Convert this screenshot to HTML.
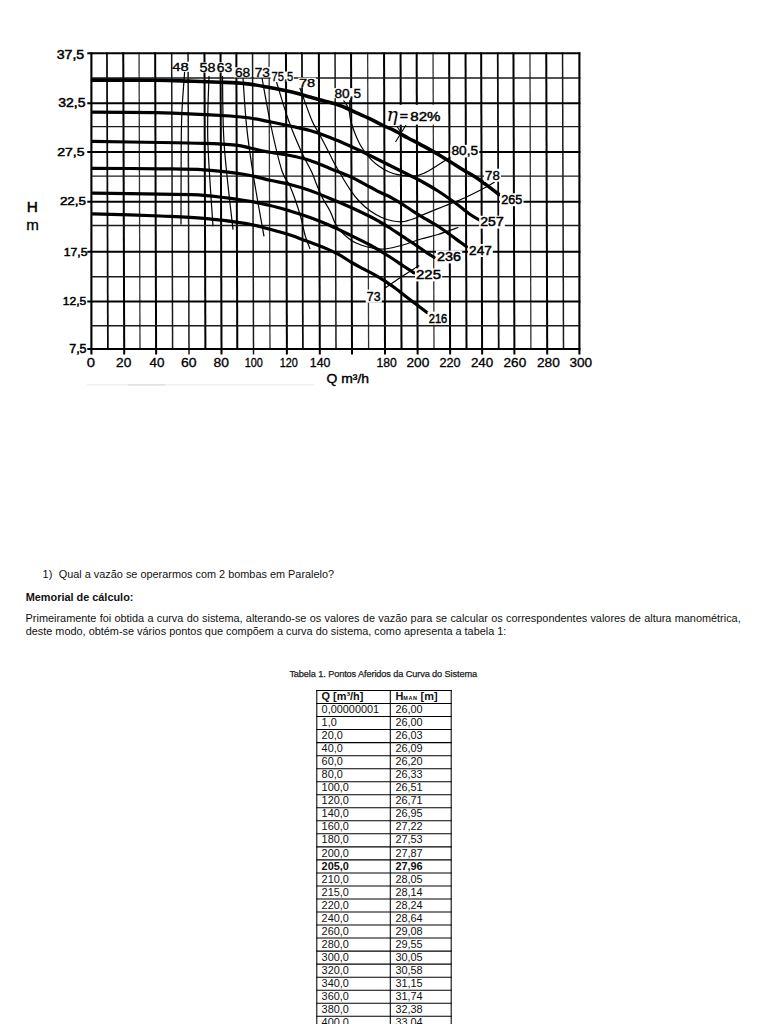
<!DOCTYPE html>
<html><head><meta charset="utf-8"><style>
html,body{margin:0;padding:0;background:#fff;}
body{width:768px;height:1024px;position:relative;overflow:hidden;font-family:"Liberation Sans",sans-serif;color:#000;}
.t{position:absolute;font-size:10.9px;line-height:12.7px;white-space:nowrap;color:#111;}
.c{position:absolute;font-size:10.9px;line-height:12.2px;white-space:nowrap;color:#111;}
.sub{font-size:5.5px;letter-spacing:0.6px;vertical-align:0.2px;}
.cap{position:absolute;left:289.4px;top:668.8px;-webkit-text-stroke:0.25px #222;font-family:"Liberation Sans",sans-serif;font-size:9.2px;line-height:10px;color:#222;white-space:nowrap;letter-spacing:-0.11px;}
</style></head><body>
<svg width="768" height="400" viewBox="0 0 768 400" style="position:absolute;left:0;top:0"><line x1="87" y1="384.8" x2="314" y2="384.8" stroke="#eeeeee" stroke-width="1.3"/><line x1="128" y1="384.8" x2="165" y2="384.8" stroke="#dddddd" stroke-width="1.3"/><line x1="91.40" y1="52.4" x2="91.40" y2="354.5" stroke="#000" stroke-width="2.1"/><line x1="106.95" y1="52.4" x2="107.90" y2="349" stroke="#0a0a0a" stroke-width="1.75"/><line x1="123.25" y1="52.4" x2="124.22" y2="354.5" stroke="#000" stroke-width="2.0"/><line x1="139.05" y1="52.4" x2="140.00" y2="349" stroke="#333" stroke-width="1.3"/><line x1="155.15" y1="52.4" x2="156.12" y2="354.5" stroke="#000" stroke-width="2.0"/><line x1="171.65" y1="52.4" x2="172.60" y2="349" stroke="#1a1a1a" stroke-width="1.5"/><line x1="188.05" y1="52.4" x2="189.02" y2="354.5" stroke="#1a1a1a" stroke-width="1.5"/><line x1="204.45" y1="52.4" x2="205.40" y2="349" stroke="#000" stroke-width="2.0"/><line x1="220.55" y1="52.4" x2="221.52" y2="354.5" stroke="#000" stroke-width="2.0"/><line x1="236.35" y1="52.4" x2="237.30" y2="349" stroke="#000" stroke-width="2.0"/><line x1="252.55" y1="52.4" x2="253.52" y2="354.5" stroke="#1a1a1a" stroke-width="1.5"/><line x1="269.05" y1="52.4" x2="270.00" y2="349" stroke="#333" stroke-width="1.3"/><line x1="285.95" y1="52.4" x2="286.92" y2="354.5" stroke="#000" stroke-width="2.0"/><line x1="301.95" y1="52.4" x2="302.90" y2="349" stroke="#0a0a0a" stroke-width="1.75"/><line x1="318.85" y1="52.4" x2="319.82" y2="354.5" stroke="#000" stroke-width="2.0"/><line x1="335.05" y1="52.4" x2="336.00" y2="349" stroke="#1a1a1a" stroke-width="1.5"/><line x1="351.05" y1="52.4" x2="352.02" y2="354.5" stroke="#000" stroke-width="2.0"/><line x1="367.65" y1="52.4" x2="368.60" y2="349" stroke="#333" stroke-width="1.3"/><line x1="384.05" y1="52.4" x2="385.02" y2="354.5" stroke="#000" stroke-width="2.0"/><line x1="400.55" y1="52.4" x2="401.50" y2="349" stroke="#000" stroke-width="2.0"/><line x1="416.65" y1="52.4" x2="417.62" y2="354.5" stroke="#000" stroke-width="2.0"/><line x1="433.05" y1="52.4" x2="434.00" y2="349" stroke="#333" stroke-width="1.3"/><line x1="449.15" y1="52.4" x2="450.12" y2="354.5" stroke="#000" stroke-width="2.0"/><line x1="465.55" y1="52.4" x2="466.50" y2="349" stroke="#000" stroke-width="2.0"/><line x1="481.15" y1="52.4" x2="482.12" y2="354.5" stroke="#000" stroke-width="2.0"/><line x1="497.75" y1="52.4" x2="498.70" y2="349" stroke="#0a0a0a" stroke-width="1.75"/><line x1="513.45" y1="52.4" x2="514.42" y2="354.5" stroke="#000" stroke-width="2.0"/><line x1="529.95" y1="52.4" x2="530.90" y2="349" stroke="#333" stroke-width="1.3"/><line x1="546.25" y1="52.4" x2="547.22" y2="354.5" stroke="#000" stroke-width="2.0"/><line x1="562.55" y1="52.4" x2="563.50" y2="349" stroke="#1a1a1a" stroke-width="1.5"/><line x1="579.40" y1="52.4" x2="579.40" y2="354.5" stroke="#000" stroke-width="2.1"/><line x1="87.3" y1="53.3" x2="580.4" y2="53.3" stroke="#000" stroke-width="2.1"/><line x1="91.4" y1="77.9" x2="580.4" y2="77.9" stroke="#1a1a1a" stroke-width="1.45"/><line x1="87.3" y1="103.3" x2="580.4" y2="103.3" stroke="#000" stroke-width="1.95"/><line x1="91.4" y1="126.6" x2="580.4" y2="126.6" stroke="#1a1a1a" stroke-width="1.45"/><line x1="87.3" y1="152.0" x2="580.4" y2="152.0" stroke="#000" stroke-width="1.95"/><line x1="91.4" y1="176.1" x2="580.4" y2="176.1" stroke="#1a1a1a" stroke-width="1.45"/><line x1="87.3" y1="201.7" x2="580.4" y2="201.7" stroke="#000" stroke-width="1.95"/><line x1="91.4" y1="225.4" x2="580.4" y2="225.4" stroke="#1a1a1a" stroke-width="1.45"/><line x1="87.3" y1="251.7" x2="580.4" y2="251.7" stroke="#000" stroke-width="1.95"/><line x1="91.4" y1="276.8" x2="580.4" y2="276.8" stroke="#1a1a1a" stroke-width="1.45"/><line x1="87.3" y1="301.4" x2="580.4" y2="301.4" stroke="#000" stroke-width="1.95"/><line x1="91.4" y1="325.7" x2="580.4" y2="325.7" stroke="#1a1a1a" stroke-width="1.45"/><line x1="87.3" y1="349.0" x2="580.4" y2="349.0" stroke="#000" stroke-width="2.1"/><path d="M92.5,80.1 C103.1,80.1 139.9,80.1 156.0,80.3 C172.1,80.5 178.3,80.8 189.0,81.1 C199.7,81.4 210.7,81.8 220.0,82.2 C229.3,82.6 237.2,82.8 245.0,83.6 C252.8,84.4 259.2,85.6 267.0,87.0 C274.8,88.4 284.7,90.4 292.0,92.1 C299.3,93.8 305.5,95.8 311.0,97.3 C316.5,98.8 320.2,99.8 325.0,101.2 C329.8,102.6 334.8,103.6 340.0,105.5 C345.2,107.4 351.2,110.4 356.0,112.6 C360.8,114.8 364.7,116.3 369.0,118.4 C373.3,120.5 377.7,122.9 382.0,125.0 C386.3,127.1 390.7,128.6 395.0,130.8 C399.3,133.0 403.7,135.7 408.0,138.0 C412.3,140.3 415.7,141.9 421.0,144.8 C426.3,147.7 433.0,151.3 440.0,155.5 C447.0,159.7 457.2,166.1 463.0,169.7 C468.8,173.2 471.2,174.3 475.0,176.8 C478.8,179.3 482.0,181.7 486.0,184.6 C490.0,187.5 496.8,192.8 499.0,194.5" fill="none" stroke="#000" stroke-width="3.6" stroke-linecap="round"/><path d="M92.5,112.1 C103.1,112.2 139.9,112.4 156.0,112.7 C172.1,113.0 176.7,113.2 189.0,113.8 C201.3,114.3 219.8,115.3 230.0,116.0 C240.2,116.7 243.3,117.0 250.0,118.0 C256.7,119.0 263.3,120.5 270.0,121.8 C276.7,123.1 283.3,124.5 290.0,126.0 C296.7,127.5 303.3,128.6 310.0,130.5 C316.7,132.4 323.3,134.9 330.0,137.5 C336.7,140.1 343.3,143.0 350.0,146.0 C356.7,149.0 363.3,152.2 370.0,155.5 C376.7,158.8 383.3,162.2 390.0,165.5 C396.7,168.8 405.0,173.0 410.0,175.5 C415.0,178.0 415.3,177.9 420.0,180.5 C424.7,183.1 432.0,187.2 438.0,191.0 C444.0,194.8 450.5,199.5 456.0,203.5 C461.5,207.5 467.0,212.2 471.0,215.0 C475.0,217.8 478.5,219.4 480.0,220.3" fill="none" stroke="#000" stroke-width="3.2" stroke-linecap="round"/><path d="M92.5,141.3 C103.8,141.5 141.4,142.2 160.0,142.5 C178.6,142.8 191.3,143.0 204.0,143.4 C216.7,143.8 228.3,144.4 236.0,145.2 C243.7,146.0 244.3,146.8 250.0,148.0 C255.7,149.2 263.3,151.1 270.0,152.3 C276.7,153.6 283.3,154.1 290.0,155.5 C296.7,156.9 303.3,158.3 310.0,160.5 C316.7,162.7 323.3,165.8 330.0,168.5 C336.7,171.2 343.3,173.4 350.0,176.5 C356.7,179.6 365.0,184.4 370.0,187.0 C375.0,189.6 376.4,190.5 380.0,192.3 C383.6,194.1 387.8,195.7 391.7,197.8 C395.6,199.9 399.5,202.3 403.4,204.8 C407.3,207.3 411.3,210.2 415.2,212.7 C419.1,215.2 422.8,217.2 426.9,219.7 C431.0,222.2 435.1,224.2 440.0,227.5 C444.9,230.8 452.1,236.2 456.5,239.4 C460.9,242.6 464.8,245.5 466.5,246.7" fill="none" stroke="#000" stroke-width="3.2" stroke-linecap="round"/><path d="M92.5,168.3 C103.8,168.4 141.4,168.5 160.0,168.8 C178.6,169.1 189.8,169.0 204.0,169.9 C218.2,170.8 234.0,172.8 245.0,174.5 C256.0,176.2 262.5,178.6 270.0,180.3 C277.5,182.0 283.3,182.8 290.0,184.5 C296.7,186.2 303.3,188.2 310.0,190.5 C316.7,192.8 323.3,195.8 330.0,198.5 C336.7,201.2 343.3,204.0 350.0,207.0 C356.7,210.0 365.0,214.0 370.0,216.5 C375.0,219.0 376.7,220.1 380.0,222.0 C383.3,223.9 386.1,225.5 390.0,228.0 C393.9,230.5 399.7,234.5 403.4,236.9 C407.1,239.3 408.4,240.1 412.0,242.5 C415.6,244.9 421.3,249.0 425.0,251.5 C428.7,254.0 432.5,256.3 434.0,257.3" fill="none" stroke="#000" stroke-width="3.2" stroke-linecap="round"/><path d="M92.5,193.2 C103.8,193.4 141.4,193.8 160.0,194.2 C178.6,194.5 189.8,194.2 204.0,195.3 C218.2,196.4 234.0,198.8 245.0,200.5 C256.0,202.2 262.5,203.8 270.0,205.5 C277.5,207.2 283.3,209.0 290.0,211.0 C296.7,213.0 303.3,215.1 310.0,217.5 C316.7,219.9 323.3,222.6 330.0,225.5 C336.7,228.4 343.3,231.8 350.0,235.0 C356.7,238.2 363.3,241.3 370.0,245.0 C376.7,248.7 384.2,253.3 390.0,257.0 C395.8,260.7 401.0,264.4 405.0,267.0 C409.0,269.6 412.5,271.8 414.0,272.8" fill="none" stroke="#000" stroke-width="3.2" stroke-linecap="round"/><path d="M92.5,213.8 C103.8,214.2 141.4,215.2 160.0,216.0 C178.6,216.8 189.8,217.1 204.0,218.3 C218.2,219.5 234.0,221.5 245.0,223.3 C256.0,225.1 262.2,227.2 270.0,229.3 C277.8,231.4 286.1,233.8 291.7,235.6 C297.3,237.4 299.5,238.5 303.4,239.9 C307.3,241.3 311.3,242.7 315.2,244.2 C319.1,245.7 322.9,247.1 327.0,248.9 C331.1,250.7 335.9,252.9 340.0,255.2 C344.1,257.5 347.8,260.2 351.7,262.5 C355.6,264.8 359.5,266.8 363.4,268.9 C367.3,271.0 371.6,273.1 375.2,275.2 C378.8,277.2 381.8,279.1 385.0,281.2 C388.2,283.3 391.7,285.5 394.7,287.7 C397.7,289.9 399.2,291.4 403.0,294.3 C406.8,297.2 413.5,302.3 417.5,305.3 C421.5,308.3 425.4,311.3 427.0,312.5" fill="none" stroke="#000" stroke-width="3.2" stroke-linecap="round"/><path d="M184.6,72.0 C184.2,78.3 182.6,97.8 182.0,110.0 C181.4,122.2 181.4,125.9 181.2,145.0 C181.1,164.1 181.0,211.2 181.0,224.5" fill="none" stroke="#000" stroke-width="1.2"/><path d="M209.0,76.0 C208.8,86.7 207.1,115.0 207.8,140.0 C208.5,165.1 212.1,211.9 213.0,226.3" fill="none" stroke="#000" stroke-width="1.2"/><path d="M222.5,76.0 C222.8,87.5 222.4,119.4 224.2,145.0 C225.9,170.6 231.5,215.5 233.0,229.6" fill="none" stroke="#000" stroke-width="1.2"/><path d="M243.0,78.0 C243.6,86.1 244.9,110.2 246.6,126.4 C248.3,142.6 250.4,156.8 253.3,175.1 C256.2,193.4 262.2,226.1 264.0,236.3" fill="none" stroke="#000" stroke-width="1.2"/><path d="M262.0,78.0 C263.5,86.0 267.7,110.5 271.0,126.0 C274.3,141.5 278.9,161.2 282.0,171.0 C285.1,180.8 287.2,179.8 289.5,185.0 C291.8,190.2 294.1,196.5 296.0,202.0 C297.9,207.5 299.5,212.5 301.0,218.0 C302.5,223.5 303.5,229.8 305.0,235.0 C306.5,240.2 309.2,246.7 310.0,249.0" fill="none" stroke="#000" stroke-width="1.2"/><path d="M276.5,82.0 C278.5,88.5 284.6,109.5 288.8,121.0 C292.9,132.5 297.4,142.8 301.2,151.2 C305.1,159.8 309.2,166.7 311.7,172.0 C314.2,177.3 314.3,178.8 316.0,183.0 C317.7,187.2 319.7,192.3 322.0,197.0 C324.3,201.7 327.8,206.7 330.0,211.0 C332.2,215.3 333.3,219.7 335.0,223.0 C336.7,226.3 337.7,228.0 340.3,230.8 C342.9,233.6 347.2,237.5 350.7,239.9 C354.1,242.3 357.4,243.7 361.0,245.0 C364.6,246.3 368.1,247.3 372.0,248.0 C375.9,248.7 379.6,249.5 384.7,249.0 C389.8,248.5 396.8,246.7 402.9,245.0 C408.9,243.3 415.1,240.8 421.0,239.0 C426.9,237.2 431.8,236.4 438.0,234.5 C444.2,232.6 454.9,228.7 458.3,227.5" fill="none" stroke="#000" stroke-width="1.2"/><path d="M299.8,87.7 C301.8,93.1 308.5,112.4 311.7,120.0 C314.9,127.6 316.2,128.3 319.0,133.5 C321.8,138.7 325.7,146.2 328.3,151.2 C330.9,156.3 332.2,159.2 334.6,163.8 C337.1,168.3 340.3,173.9 343.0,178.3 C345.7,182.7 348.1,186.7 350.7,190.4 C353.3,194.1 355.3,197.1 358.5,200.5 C361.7,203.9 366.1,208.0 370.0,210.8 C373.9,213.6 377.9,215.8 381.7,217.5 C385.5,219.2 389.5,220.3 393.0,221.0 C396.5,221.7 399.2,222.0 402.5,221.7 C405.8,221.4 409.5,220.2 413.0,219.0 C416.5,217.8 418.1,216.7 423.3,214.6 C428.5,212.5 437.1,209.0 444.0,206.2 C450.9,203.4 458.0,200.8 465.0,197.7 C472.0,194.5 480.9,189.9 485.8,187.3 C490.8,184.7 493.2,182.9 494.7,182.0" fill="none" stroke="#000" stroke-width="1.2"/><path d="M343.5,100.5 C344.3,101.8 347.3,105.1 348.5,108.5 C349.7,111.9 349.8,117.0 350.8,121.0 C351.8,125.0 353.2,128.9 354.7,132.8 C356.2,136.7 358.2,141.2 360.0,144.5 C361.8,147.8 363.2,149.7 365.2,152.3 C367.1,154.9 369.3,157.7 371.7,160.1 C374.1,162.5 376.7,164.6 379.5,166.6 C382.3,168.6 385.6,170.5 388.6,171.8 C391.6,173.1 393.6,173.9 397.7,174.6 C401.8,175.3 408.6,176.4 413.0,176.2 C417.4,176.0 419.9,175.0 424.0,173.2 C428.1,171.4 432.5,168.4 437.3,165.5 C442.1,162.6 450.2,157.2 452.8,155.5" fill="none" stroke="#000" stroke-width="1.2"/><path d="M349.8,100.0 L349.6,110.5" fill="none" stroke="#000" stroke-width="1.2"/><path d="M384.7,288.3 C387.6,286.3 396.2,280.3 402.0,276.5 C407.8,272.7 416.4,267.3 419.3,265.5" fill="none" stroke="#000" stroke-width="1.2"/><line x1="395.5" y1="142" x2="406" y2="125" stroke="#000" stroke-width="1.1"/><line x1="397" y1="126.5" x2="403" y2="135.5" stroke="#000" stroke-width="1.1"/><text x="56.76" y="58.65" font-family="Liberation Sans, sans-serif" font-weight="normal" font-size="12.25" textLength="27.48" lengthAdjust="spacingAndGlyphs" fill="#000" stroke="#000" stroke-width="0.5">37,5</text><text x="58.37" y="106.80" font-family="Liberation Sans, sans-serif" font-weight="normal" font-size="12.32" textLength="27.12" lengthAdjust="spacingAndGlyphs" fill="#000" stroke="#000" stroke-width="0.5">32,5</text><text x="57.19" y="156.40" font-family="Liberation Sans, sans-serif" font-weight="normal" font-size="11.74" textLength="27.29" lengthAdjust="spacingAndGlyphs" fill="#000" stroke="#000" stroke-width="0.5">27,5</text><text x="59.93" y="205.00" font-family="Liberation Sans, sans-serif" font-weight="normal" font-size="11.46" textLength="26.03" lengthAdjust="spacingAndGlyphs" fill="#000" stroke="#000" stroke-width="0.5">22,5</text><text x="63.77" y="255.70" font-family="Liberation Sans, sans-serif" font-weight="normal" font-size="11.34" textLength="23.74" lengthAdjust="spacingAndGlyphs" fill="#000" stroke="#000" stroke-width="0.5">17,5</text><text x="62.78" y="304.80" font-family="Liberation Sans, sans-serif" font-weight="normal" font-size="11.74" textLength="23.53" lengthAdjust="spacingAndGlyphs" fill="#000" stroke="#000" stroke-width="0.5">12,5</text><text x="69.26" y="353.00" font-family="Liberation Sans, sans-serif" font-weight="normal" font-size="12.21" textLength="17.26" lengthAdjust="spacingAndGlyphs" fill="#000" stroke="#000" stroke-width="0.5">7,5</text><text x="86.72" y="367.00" font-family="Liberation Sans, sans-serif" font-weight="normal" font-size="12.03" textLength="8.26" lengthAdjust="spacingAndGlyphs" fill="#000" stroke="#000" stroke-width="0.3">0</text><text x="116.11" y="367.00" font-family="Liberation Sans, sans-serif" font-weight="normal" font-size="12.03" textLength="15.22" lengthAdjust="spacingAndGlyphs" fill="#000" stroke="#000" stroke-width="0.3">20</text><text x="149.59" y="367.00" font-family="Liberation Sans, sans-serif" font-weight="normal" font-size="12.03" textLength="14.93" lengthAdjust="spacingAndGlyphs" fill="#000" stroke="#000" stroke-width="0.3">40</text><text x="180.99" y="367.00" font-family="Liberation Sans, sans-serif" font-weight="normal" font-size="12.03" textLength="15.56" lengthAdjust="spacingAndGlyphs" fill="#000" stroke="#000" stroke-width="0.3">60</text><text x="213.60" y="367.00" font-family="Liberation Sans, sans-serif" font-weight="normal" font-size="12.03" textLength="15.45" lengthAdjust="spacingAndGlyphs" fill="#000" stroke="#000" stroke-width="0.3">80</text><text x="244.67" y="367.00" font-family="Liberation Sans, sans-serif" font-weight="normal" font-size="12.03" textLength="18.15" lengthAdjust="spacingAndGlyphs" fill="#000" stroke="#000" stroke-width="0.3">100</text><text x="279.77" y="367.00" font-family="Liberation Sans, sans-serif" font-weight="normal" font-size="12.03" textLength="18.15" lengthAdjust="spacingAndGlyphs" fill="#000" stroke="#000" stroke-width="0.3">120</text><text x="309.86" y="367.00" font-family="Liberation Sans, sans-serif" font-weight="normal" font-size="12.03" textLength="20.62" lengthAdjust="spacingAndGlyphs" fill="#000" stroke="#000" stroke-width="0.3">140</text><text x="376.57" y="367.00" font-family="Liberation Sans, sans-serif" font-weight="normal" font-size="12.03" textLength="20.30" lengthAdjust="spacingAndGlyphs" fill="#000" stroke="#000" stroke-width="0.3">180</text><text x="406.51" y="367.00" font-family="Liberation Sans, sans-serif" font-weight="normal" font-size="12.03" textLength="22.82" lengthAdjust="spacingAndGlyphs" fill="#000" stroke="#000" stroke-width="0.3">200</text><text x="439.56" y="367.00" font-family="Liberation Sans, sans-serif" font-weight="normal" font-size="12.03" textLength="21.13" lengthAdjust="spacingAndGlyphs" fill="#000" stroke="#000" stroke-width="0.3">220</text><text x="470.92" y="367.00" font-family="Liberation Sans, sans-serif" font-weight="normal" font-size="12.03" textLength="22.40" lengthAdjust="spacingAndGlyphs" fill="#000" stroke="#000" stroke-width="0.3">240</text><text x="503.52" y="367.00" font-family="Liberation Sans, sans-serif" font-weight="normal" font-size="12.03" textLength="22.72" lengthAdjust="spacingAndGlyphs" fill="#000" stroke="#000" stroke-width="0.3">260</text><text x="537.01" y="367.00" font-family="Liberation Sans, sans-serif" font-weight="normal" font-size="12.03" textLength="22.82" lengthAdjust="spacingAndGlyphs" fill="#000" stroke="#000" stroke-width="0.3">280</text><text x="569.48" y="367.00" font-family="Liberation Sans, sans-serif" font-weight="normal" font-size="12.03" textLength="22.65" lengthAdjust="spacingAndGlyphs" fill="#000" stroke="#000" stroke-width="0.3">300</text><text x="326.64" y="383.40" font-family="Liberation Sans, sans-serif" font-weight="normal" font-size="13.03" textLength="42.46" lengthAdjust="spacingAndGlyphs" fill="#000" stroke="#000" stroke-width="0.4">Q m³/h</text><text x="26.84" y="211.80" font-family="Liberation Sans, sans-serif" font-weight="normal" font-size="14.83" textLength="11.12" lengthAdjust="spacingAndGlyphs" fill="#000" stroke="#000" stroke-width="0.45">H</text><text x="26.30" y="230.30" font-family="Liberation Sans, sans-serif" font-weight="normal" font-size="14.87" textLength="12.60" lengthAdjust="spacingAndGlyphs" fill="#000" stroke="#000" stroke-width="0.3">m</text><rect x="173.0" y="61.7" width="16.6" height="10.1" fill="#fff"/><text x="172.36" y="71.30" font-family="Liberation Sans, sans-serif" font-weight="normal" font-size="11.60" textLength="16.38" lengthAdjust="spacingAndGlyphs" fill="#000" stroke="#000" stroke-width="0.35">48</text><rect x="198.7" y="62.3" width="17.5" height="10.2" fill="#fff"/><text x="199.62" y="72.20" font-family="Liberation Sans, sans-serif" font-weight="normal" font-size="12.03" textLength="16.00" lengthAdjust="spacingAndGlyphs" fill="#000" stroke="#000" stroke-width="0.35">58</text><rect x="215.9" y="62.3" width="16.9" height="10.2" fill="#fff"/><text x="216.69" y="72.20" font-family="Liberation Sans, sans-serif" font-weight="normal" font-size="12.03" textLength="15.52" lengthAdjust="spacingAndGlyphs" fill="#000" stroke="#000" stroke-width="0.35">63</text><rect x="234.1" y="67.3" width="16.6" height="10.1" fill="#fff"/><text x="234.91" y="77.10" font-family="Liberation Sans, sans-serif" font-weight="normal" font-size="11.89" textLength="15.19" lengthAdjust="spacingAndGlyphs" fill="#000" stroke="#000" stroke-width="0.35">68</text><rect x="253.9" y="66.9" width="16.6" height="10.5" fill="#fff"/><text x="254.70" y="77.10" font-family="Liberation Sans, sans-serif" font-weight="normal" font-size="12.46" textLength="15.20" lengthAdjust="spacingAndGlyphs" fill="#000" stroke="#000" stroke-width="0.35">73</text><rect x="270.6" y="71.5" width="23.3" height="10.1" fill="#fff"/><text x="271.53" y="81.30" font-family="Liberation Sans, sans-serif" font-weight="normal" font-size="12.06" textLength="21.64" lengthAdjust="spacingAndGlyphs" fill="#000" stroke="#000" stroke-width="0.35">75,5</text><rect x="298.2" y="77.7" width="17.6" height="9.6" fill="#fff"/><text x="298.95" y="87.00" font-family="Liberation Sans, sans-serif" font-weight="normal" font-size="11.17" textLength="16.29" lengthAdjust="spacingAndGlyphs" fill="#000" stroke="#000" stroke-width="0.35">78</text><rect x="333.6" y="88.1" width="28.0" height="10.1" fill="#fff"/><text x="334.51" y="97.90" font-family="Liberation Sans, sans-serif" font-weight="normal" font-size="11.89" textLength="26.46" lengthAdjust="spacingAndGlyphs" fill="#000" stroke="#000" stroke-width="0.35">80,5</text><rect x="450.3" y="144.8" width="29.0" height="12.7" fill="#fff"/><text x="451.51" y="155.30" font-family="Liberation Sans, sans-serif" font-weight="normal" font-size="11.89" textLength="26.57" lengthAdjust="spacingAndGlyphs" fill="#000" stroke="#000" stroke-width="0.4">80,5</text><rect x="484.0" y="168.7" width="17.0" height="13.0" fill="#fff"/><text x="485.12" y="179.50" font-family="Liberation Sans, sans-serif" font-weight="normal" font-size="12.32" textLength="14.65" lengthAdjust="spacingAndGlyphs" fill="#000" stroke="#000" stroke-width="0.4">78</text><rect x="500.0" y="193.3" width="23.5" height="12.9" fill="#fff"/><text x="501.17" y="204.00" font-family="Liberation Sans, sans-serif" font-weight="normal" font-size="12.17" textLength="21.07" lengthAdjust="spacingAndGlyphs" fill="#000" stroke="#000" stroke-width="0.5">265</text><rect x="479.2" y="215.7" width="25.6" height="12.9" fill="#fff"/><text x="480.29" y="226.40" font-family="Liberation Sans, sans-serif" font-weight="normal" font-size="12.17" textLength="23.41" lengthAdjust="spacingAndGlyphs" fill="#000" stroke="#000" stroke-width="0.5">257</text><rect x="468.0" y="244.0" width="24.8" height="13.0" fill="#fff"/><text x="469.12" y="254.80" font-family="Liberation Sans, sans-serif" font-weight="normal" font-size="12.32" textLength="22.56" lengthAdjust="spacingAndGlyphs" fill="#000" stroke="#000" stroke-width="0.5">247</text><rect x="436.0" y="250.6" width="26.2" height="12.8" fill="#fff"/><text x="437.08" y="261.20" font-family="Liberation Sans, sans-serif" font-weight="normal" font-size="12.03" textLength="23.95" lengthAdjust="spacingAndGlyphs" fill="#000" stroke="#000" stroke-width="0.5">236</text><rect x="415.0" y="268.4" width="27.2" height="13.0" fill="#fff"/><text x="416.05" y="279.20" font-family="Liberation Sans, sans-serif" font-weight="normal" font-size="12.32" textLength="24.98" lengthAdjust="spacingAndGlyphs" fill="#000" stroke="#000" stroke-width="0.5">225</text><rect x="427.5" y="311.7" width="21.0" height="13.1" fill="#fff"/><text x="428.74" y="322.60" font-family="Liberation Sans, sans-serif" font-weight="normal" font-size="12.46" textLength="18.44" lengthAdjust="spacingAndGlyphs" fill="#000" stroke="#000" stroke-width="0.5">216</text><rect x="365.7" y="289.6" width="16.1" height="13.1" fill="#fff"/><text x="366.87" y="300.50" font-family="Liberation Sans, sans-serif" font-weight="normal" font-size="12.46" textLength="13.67" lengthAdjust="spacingAndGlyphs" fill="#000" stroke="#000" stroke-width="0.4">73</text><rect x="386.5" y="104.8" width="57" height="19.8" fill="#fff"/><text x="386.6" y="121.2" font-family="DejaVu Serif, serif" font-style="italic" font-size="19" fill="#000">η</text><text x="399.82" y="119.50" font-family="Liberation Sans, sans-serif" font-weight="normal" font-size="11.22" textLength="8.17" lengthAdjust="spacingAndGlyphs" fill="#000" stroke="#000" stroke-width="0.5">=</text><text x="410.34" y="120.80" font-family="Liberation Sans, sans-serif" font-weight="normal" font-size="12.89" textLength="30.19" lengthAdjust="spacingAndGlyphs" fill="#000" stroke="#000" stroke-width="0.45">82%</text></svg>
<svg width="768" height="1024" style="position:absolute;left:0;top:0"><line x1="316.3" y1="690.50" x2="451.7" y2="690.50" stroke="#000" stroke-width="1.05"/><line x1="316.3" y1="703.53" x2="451.7" y2="703.53" stroke="#000" stroke-width="1.05"/><line x1="316.3" y1="716.56" x2="451.7" y2="716.56" stroke="#000" stroke-width="1.05"/><line x1="316.3" y1="729.59" x2="451.7" y2="729.59" stroke="#000" stroke-width="1.05"/><line x1="316.3" y1="742.62" x2="451.7" y2="742.62" stroke="#000" stroke-width="1.05"/><line x1="316.3" y1="755.65" x2="451.7" y2="755.65" stroke="#000" stroke-width="1.05"/><line x1="316.3" y1="768.68" x2="451.7" y2="768.68" stroke="#000" stroke-width="1.05"/><line x1="316.3" y1="781.71" x2="451.7" y2="781.71" stroke="#000" stroke-width="1.05"/><line x1="316.3" y1="794.74" x2="451.7" y2="794.74" stroke="#000" stroke-width="1.05"/><line x1="316.3" y1="807.77" x2="451.7" y2="807.77" stroke="#000" stroke-width="1.05"/><line x1="316.3" y1="820.80" x2="451.7" y2="820.80" stroke="#000" stroke-width="1.05"/><line x1="316.3" y1="833.83" x2="451.7" y2="833.83" stroke="#000" stroke-width="1.05"/><line x1="316.3" y1="846.86" x2="451.7" y2="846.86" stroke="#000" stroke-width="1.05"/><line x1="316.3" y1="859.89" x2="451.7" y2="859.89" stroke="#000" stroke-width="1.05"/><line x1="316.3" y1="872.92" x2="451.7" y2="872.92" stroke="#000" stroke-width="1.05"/><line x1="316.3" y1="885.95" x2="451.7" y2="885.95" stroke="#000" stroke-width="1.05"/><line x1="316.3" y1="898.98" x2="451.7" y2="898.98" stroke="#000" stroke-width="1.05"/><line x1="316.3" y1="912.01" x2="451.7" y2="912.01" stroke="#000" stroke-width="1.05"/><line x1="316.3" y1="925.04" x2="451.7" y2="925.04" stroke="#000" stroke-width="1.05"/><line x1="316.3" y1="938.07" x2="451.7" y2="938.07" stroke="#000" stroke-width="1.05"/><line x1="316.3" y1="951.10" x2="451.7" y2="951.10" stroke="#000" stroke-width="1.05"/><line x1="316.3" y1="964.13" x2="451.7" y2="964.13" stroke="#000" stroke-width="1.05"/><line x1="316.3" y1="977.16" x2="451.7" y2="977.16" stroke="#000" stroke-width="1.05"/><line x1="316.3" y1="990.19" x2="451.7" y2="990.19" stroke="#000" stroke-width="1.05"/><line x1="316.3" y1="1003.22" x2="451.7" y2="1003.22" stroke="#000" stroke-width="1.05"/><line x1="316.3" y1="1016.25" x2="451.7" y2="1016.25" stroke="#000" stroke-width="1.05"/><line x1="316.3" y1="1029.28" x2="451.7" y2="1029.28" stroke="#000" stroke-width="1.05"/><line x1="316.8" y1="690.0" x2="316.8" y2="1029.28" stroke="#000" stroke-width="1.05"/><line x1="390.3" y1="690.0" x2="390.3" y2="1029.28" stroke="#000" stroke-width="1.05"/><line x1="451.2" y1="690.0" x2="451.2" y2="1029.28" stroke="#000" stroke-width="1.05"/></svg>
<div class="t" style="left:42.6px;top:568.4px;">1)</div>
<div class="t" style="left:58.7px;top:568.4px;">Qual a vazão se operarmos com 2 bombas em Paralelo?</div>
<div class="t" style="left:25.7px;top:590.65px;font-weight:bold;">Memorial de cálculo:</div>
<div class="t" style="left:25.6px;top:612.2px;width:715.1px;text-align:justify;text-align-last:justify;">Primeiramente foi obtida a curva do sistema, alterando-se os valores de vazão para se calcular os correspondentes valores de altura manométrica,</div>
<div class="t" style="left:25.7px;top:625.1px;">deste modo, obtém-se vários pontos que compõem a curva do sistema, como apresenta a tabela 1:</div>
<div class="cap">Tabela 1. Pontos Aferidos da Curva do Sistema</div>
<div class="c" style="left:321.6px;top:690.35px"><b>Q [m³/h]</b></div><div class="c" style="left:395.4px;top:690.35px"><b>H<span class="sub">MAN</span> [m]</b></div><div class="c" style="left:321.6px;top:703.18px">0,00000001</div><div class="c" style="left:395.4px;top:703.18px">26,00</div><div class="c" style="left:321.6px;top:716.21px">1,0</div><div class="c" style="left:395.4px;top:716.21px">26,00</div><div class="c" style="left:321.6px;top:729.24px">20,0</div><div class="c" style="left:395.4px;top:729.24px">26,03</div><div class="c" style="left:321.6px;top:742.27px">40,0</div><div class="c" style="left:395.4px;top:742.27px">26,09</div><div class="c" style="left:321.6px;top:755.30px">60,0</div><div class="c" style="left:395.4px;top:755.30px">26,20</div><div class="c" style="left:321.6px;top:768.33px">80,0</div><div class="c" style="left:395.4px;top:768.33px">26,33</div><div class="c" style="left:321.6px;top:781.36px">100,0</div><div class="c" style="left:395.4px;top:781.36px">26,51</div><div class="c" style="left:321.6px;top:794.39px">120,0</div><div class="c" style="left:395.4px;top:794.39px">26,71</div><div class="c" style="left:321.6px;top:807.42px">140,0</div><div class="c" style="left:395.4px;top:807.42px">26,95</div><div class="c" style="left:321.6px;top:820.45px">160,0</div><div class="c" style="left:395.4px;top:820.45px">27,22</div><div class="c" style="left:321.6px;top:833.48px">180,0</div><div class="c" style="left:395.4px;top:833.48px">27,53</div><div class="c" style="left:321.6px;top:846.51px">200,0</div><div class="c" style="left:395.4px;top:846.51px">27,87</div><div class="c" style="left:321.6px;top:859.54px"><b>205,0</b></div><div class="c" style="left:395.4px;top:859.54px"><b>27,96</b></div><div class="c" style="left:321.6px;top:872.57px">210,0</div><div class="c" style="left:395.4px;top:872.57px">28,05</div><div class="c" style="left:321.6px;top:885.60px">215,0</div><div class="c" style="left:395.4px;top:885.60px">28,14</div><div class="c" style="left:321.6px;top:898.63px">220,0</div><div class="c" style="left:395.4px;top:898.63px">28,24</div><div class="c" style="left:321.6px;top:911.66px">240,0</div><div class="c" style="left:395.4px;top:911.66px">28,64</div><div class="c" style="left:321.6px;top:924.69px">260,0</div><div class="c" style="left:395.4px;top:924.69px">29,08</div><div class="c" style="left:321.6px;top:937.72px">280,0</div><div class="c" style="left:395.4px;top:937.72px">29,55</div><div class="c" style="left:321.6px;top:950.75px">300,0</div><div class="c" style="left:395.4px;top:950.75px">30,05</div><div class="c" style="left:321.6px;top:963.78px">320,0</div><div class="c" style="left:395.4px;top:963.78px">30,58</div><div class="c" style="left:321.6px;top:976.81px">340,0</div><div class="c" style="left:395.4px;top:976.81px">31,15</div><div class="c" style="left:321.6px;top:989.84px">360,0</div><div class="c" style="left:395.4px;top:989.84px">31,74</div><div class="c" style="left:321.6px;top:1002.87px">380,0</div><div class="c" style="left:395.4px;top:1002.87px">32,38</div><div class="c" style="left:321.6px;top:1015.90px">400,0</div><div class="c" style="left:395.4px;top:1015.90px">33,04</div>
</body></html>
